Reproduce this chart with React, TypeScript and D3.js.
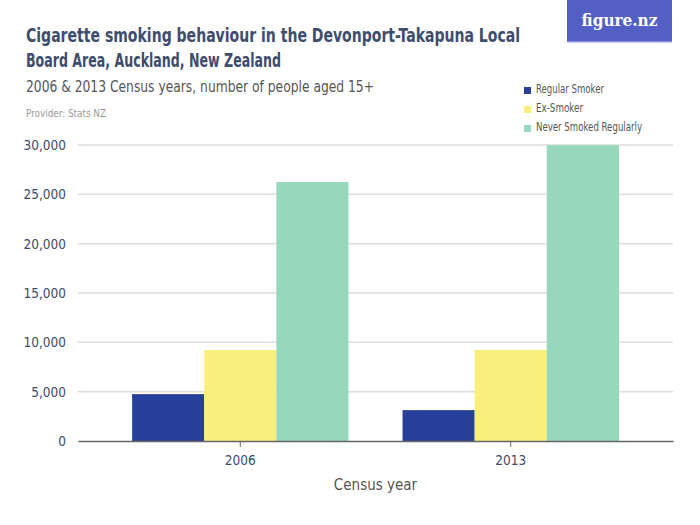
import React, { useEffect, useRef } from "react";
import * as d3 from "d3";

const years = ["2006", "2013"];
const seriesNames = ["Regular Smoker", "Ex-Smoker", "Never Smoked Regularly"];
const regularSmoker = [4750, 3130];
const exSmoker = [9220, 9230];
const neverSmoked = [26250, 29980];
const seriesColors = ["#27419b", "#f8f07a", "#97d7bb"];
const yTicks = [0, 5000, 10000, 15000, 20000, 25000, 30000];

const FONT = "'DejaVu Sans Condensed', 'Roboto', sans-serif";

const App: React.FC = () => {
  const svgRef = useRef<SVGSVGElement>(null);

  useEffect(() => {
    if (!svgRef.current) return;
    const width = 700;
    const height = 525;
    const svg = d3.select(svgRef.current);
    svg.selectAll("*").remove();
    svg.attr("width", width).attr("height", height).style("font-family", FONT);

    const margin = { top: 145, right: 27, bottom: 84, left: 78 };
    const innerWidth = width - margin.left - margin.right;
    const innerHeight = height - margin.top - margin.bottom;

    const values = [regularSmoker, exSmoker, neverSmoked];

    // title block
    svg.append("text")
      .attr("x", 26).attr("y", 42)
      .attr("fill", "#3e4d6e")
      .style("font-size", "20px").style("font-weight", "bold")
      .attr("textLength", 494).attr("lengthAdjust", "spacingAndGlyphs")
      .text("Cigarette smoking behaviour in the Devonport-Takapuna Local");
    svg.append("text")
      .attr("x", 26).attr("y", 67)
      .attr("fill", "#3e4d6e")
      .style("font-size", "20px").style("font-weight", "bold")
      .attr("textLength", 255).attr("lengthAdjust", "spacingAndGlyphs")
      .text("Board Area, Auckland, New Zealand");
    svg.append("text")
      .attr("x", 26).attr("y", 92)
      .attr("fill", "#555")
      .style("font-size", "16px")
      .attr("textLength", 348).attr("lengthAdjust", "spacingAndGlyphs")
      .text("2006 & 2013 Census years, number of people aged 15+");
    svg.append("text")
      .attr("x", 26).attr("y", 117)
      .attr("fill", "#999")
      .style("font-size", "11px")
      .attr("textLength", 80).attr("lengthAdjust", "spacingAndGlyphs")
      .text("Provider: Stats NZ");

    // logo
    svg.append("rect")
      .attr("x", 567).attr("y", 0).attr("width", 105).attr("height", 42)
      .attr("fill", "#535fc5");
    svg.append("rect")
      .attr("x", 567).attr("y", 41).attr("width", 105).attr("height", 1.5)
      .attr("fill", "#8f96dc");
    svg.append("text")
      .attr("x", 619.5).attr("y", 26)
      .attr("text-anchor", "middle")
      .attr("fill", "#fff")
      .style("font-family", "'DejaVu Serif Condensed', 'DejaVu Serif', serif")
      .style("font-size", "17px").style("font-weight", "bold")
      .text("figure.nz");

    // legend
    const legendWidths = [68, 47, 106];
    const legend = svg.append("g").attr("transform", "translate(524,89)");
    seriesNames.forEach((name, i) => {
      const row = legend.append("g").attr("transform", `translate(0,${i * 19})`);
      row.append("rect").attr("x", 0).attr("y", -2).attr("width", 7).attr("height", 7)
        .attr("fill", seriesColors[i]);
      row.append("text").attr("x", 12).attr("y", 4)
        .attr("fill", "#555").style("font-size", "12px")
        .attr("textLength", legendWidths[i]).attr("lengthAdjust", "spacingAndGlyphs")
        .text(name);
    });

    const g = svg.append("g").attr("transform", `translate(${margin.left},${margin.top})`);

    const x0 = d3.scaleBand<string>().domain(years).range([0, innerWidth])
      .paddingInner(0.2).paddingOuter(0.2);
    const x1 = d3.scaleBand<number>().domain([0, 1, 2]).range([0, x0.bandwidth()]);
    const y = d3.scaleLinear().domain([0, 30000]).range([innerHeight, 0]);

    // gridlines
    g.selectAll(".grid")
      .data(yTicks.filter(t => t > 0))
      .join("line")
      .attr("x1", 0).attr("x2", innerWidth)
      .attr("y1", d => y(d)).attr("y2", d => y(d))
      .attr("stroke", "#dddddd").attr("stroke-width", 1.5);

    // y labels
    g.selectAll(".ylab")
      .data(yTicks)
      .join("text")
      .attr("x", -12).attr("y", d => y(d) + 5)
      .attr("text-anchor", "end")
      .attr("fill", "#3d4b6b")
      .style("font-size", "13.5px")
      .text(d => d3.format(",")(d));

    // bars
    years.forEach((yr, yi) => {
      g.selectAll(`.bar-${yi}`)
        .data(values.map((v, si) => ({ si, v: v[yi] })))
        .join("rect")
        .attr("x", d => (x0(yr) ?? 0) + (x1(d.si) ?? 0))
        .attr("width", x1.bandwidth())
        .attr("y", d => y(d.v))
        .attr("height", d => innerHeight - y(d.v))
        .attr("fill", d => seriesColors[d.si]);
    });

    // x axis
    const xAxis = g.append("g").attr("transform", `translate(0,${innerHeight})`)
      .call(d3.axisBottom(x0).tickSize(6).tickSizeOuter(0));
    xAxis.select(".domain").attr("stroke", "#666").attr("stroke-width", 1.5);
    xAxis.selectAll(".tick line").attr("stroke", "#666");
    xAxis.selectAll(".tick text")
      .attr("y", 14)
      .attr("fill", "#3d4b6b")
      .style("font-family", FONT)
      .style("font-size", "13.5px");

    svg.append("text")
      .attr("x", margin.left + innerWidth / 2).attr("y", 490)
      .attr("text-anchor", "middle")
      .attr("fill", "#555")
      .style("font-size", "15px")
      .text("Census year");
  }, []);

  return <svg ref={svgRef} style={{ position: "absolute", left: 0, top: 0, background: "#fff" }} />;
};

export default App;
